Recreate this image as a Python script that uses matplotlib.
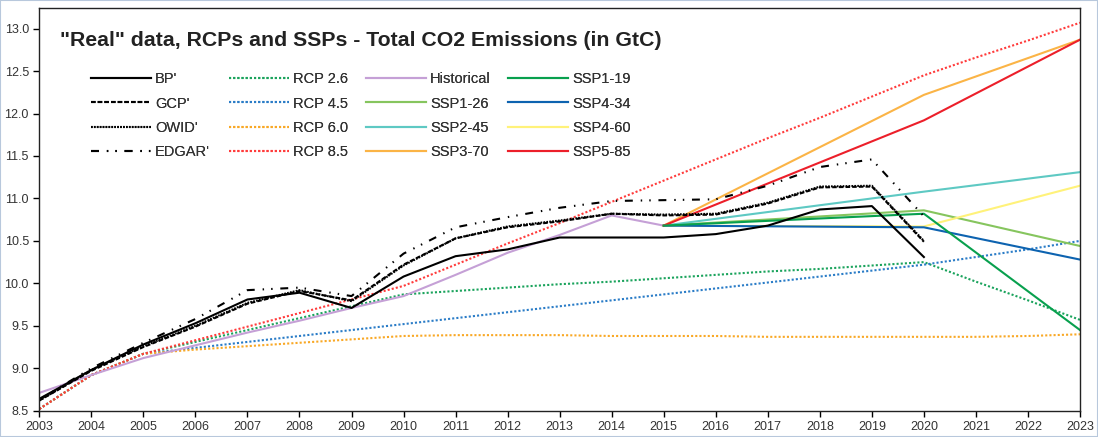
import matplotlib
matplotlib.use('Agg')
import matplotlib.pyplot as plt
from matplotlib.patches import Rectangle

plt.rcParams['font.family'] = ['Liberation Sans', 'DejaVu Sans']

# years
years_obs = list(range(2003, 2021))
years_hist = list(range(2003, 2016))
years_rcp = list(range(2003, 2024))
years_ssp = [2015, 2020, 2023]

# "real" data (GtC)
bp = [8.64, 8.98, 9.28, 9.53, 9.81, 9.89, 9.71, 10.08, 10.32, 10.40, 10.54, 10.54, 10.54, 10.58, 10.68, 10.87, 10.91, 10.31]
gcp = [8.62, 8.97, 9.25, 9.49, 9.76, 9.91, 9.80, 10.22, 10.53, 10.66, 10.73, 10.82, 10.80, 10.81, 10.94, 11.13, 11.14, 10.49]
owid = [8.62, 8.98, 9.26, 9.50, 9.77, 9.92, 9.79, 10.21, 10.53, 10.67, 10.74, 10.82, 10.81, 10.82, 10.95, 11.14, 11.15, 10.50]
edgar = [8.63, 9.00, 9.30, 9.58, 9.92, 9.95, 9.85, 10.35, 10.66, 10.78, 10.89, 10.97, 10.98, 10.99, 11.15, 11.37, 11.46, 10.79]

# RCPs
rcp26 = [8.52, 8.92, 9.17, 9.31, 9.45, 9.59, 9.73, 9.87, 9.91, 9.95, 9.99, 10.02, 10.06, 10.10, 10.14, 10.17, 10.21, 10.25, 10.02, 9.80, 9.57]
rcp45 = [8.52, 8.92, 9.17, 9.24, 9.31, 9.38, 9.45, 9.52, 9.59, 9.66, 9.73, 9.80, 9.87, 9.94, 10.01, 10.08, 10.15, 10.22, 10.31, 10.40, 10.50]
rcp60 = [8.52, 8.92, 9.17, 9.22, 9.26, 9.30, 9.34, 9.38, 9.39, 9.39, 9.39, 9.38, 9.38, 9.38, 9.37, 9.37, 9.37, 9.37, 9.37, 9.38, 9.40]
rcp85 = [8.52, 8.92, 9.17, 9.33, 9.49, 9.65, 9.81, 9.97, 10.22, 10.47, 10.71, 10.96, 11.21, 11.46, 11.71, 11.95, 12.20, 12.45, 12.66, 12.86, 13.07]

# historical + SSPs
historical = [8.71, 8.92, 9.12, 9.27, 9.42, 9.56, 9.71, 9.85, 10.10, 10.36, 10.57, 10.80, 10.68]
ssp119 = [10.68, 10.82, 9.45]
ssp126 = [10.68, 10.86, 10.44]
ssp245 = [10.68, 11.08, 11.31]
ssp370 = [10.68, 12.22, 12.87]
ssp434 = [10.68, 10.66, 10.28]
ssp460 = [10.68, 10.67, 11.15]
ssp585 = [10.68, 11.92, 12.87]

W, H = 1098, 437
fig = plt.figure(figsize=(W / 100, H / 100), dpi=100)
ax = fig.add_axes([39.3 / W, 1 - 410.7 / H, (1080 - 39.3) / W, (410.7 - 8.3) / H])

lw = 1.5
dot = (0, (1, 1))

# RCP dotted lines
h_rcp26, = ax.plot(years_rcp, rcp26, color='#1aa35c', lw=lw, ls=dot, label='RCP 2.6')
h_rcp45, = ax.plot(years_rcp, rcp45, color='#2a7cc7', lw=lw, ls=dot, label='RCP 4.5')
h_rcp60, = ax.plot(years_rcp, rcp60, color='#f9a825', lw=lw, ls=dot, label='RCP 6.0')
h_rcp85, = ax.plot(years_rcp, rcp85, color='#ff3b3b', lw=lw, ls=dot, label='RCP 8.5')

# historical and SSP solid lines
h_hist, = ax.plot(years_hist, historical, color='#c5a0d6', lw=lw, label='Historical')
h_126, = ax.plot(years_ssp, ssp126, color='#86c55e', lw=lw, label='SSP1-26')
h_245, = ax.plot(years_ssp, ssp245, color='#5ec9c3', lw=lw, label='SSP2-45')
h_370, = ax.plot(years_ssp, ssp370, color='#fbb446', lw=lw, label='SSP3-70')
h_460, = ax.plot(years_ssp, ssp460, color='#fff27a', lw=lw, label='SSP4-60')
h_434, = ax.plot(years_ssp, ssp434, color='#0d63b0', lw=lw, label='SSP4-34')
h_585, = ax.plot(years_ssp, ssp585, color='#ec1f2a', lw=lw, label='SSP5-85')
h_119, = ax.plot(years_ssp, ssp119, color='#08a04e', lw=lw, label='SSP1-19')

# observed data in black
h_owid, = ax.plot(years_obs, owid, color='black', lw=lw, ls=(0, (0.8, 0.6)), label="OWID'")
h_gcp, = ax.plot(years_obs, gcp, color='black', lw=lw, ls=(0, (2.2, 1.0)), label="GCP'")
h_edgar, = ax.plot(years_obs, edgar, color='black', lw=lw, ls=(0, (3.8, 3.8, 0.7, 3.4, 0.7, 3.7)), label="EDGAR'")
h_bp, = ax.plot(years_obs, bp, color='black', lw=lw, label="BP'")

ax.set_xlim(2003, 2023)
ax.set_ylim(8.5, 8.5 + (410.7 - 8.3) / 84.9)
ax.set_xticks(years_rcp)
ax.set_yticks([8.5 + 0.5 * i for i in range(10)])
ax.set_yticklabels(['%.1f' % (8.5 + 0.5 * i) for i in range(10)])
ax.tick_params(labelsize=9, colors='#333333', length=4, width=1)
ax.tick_params(axis='both', color='black')
for s in ax.spines.values():
    s.set_color('#222222')
    s.set_linewidth(1)

fig.text(60 / W, 1 - 40 / H, '"Real" data, RCPs and SSPs - Total CO2 Emissions (in GtC)',
         fontsize=15.3, fontweight='bold', color='#222222', va='center', ha='left')

# legend: four columns drawn as separate legends
columns = [
    ([h_bp, h_gcp, h_owid, h_edgar], 91),
    ([h_rcp26, h_rcp45, h_rcp60, h_rcp85], 229),
    ([h_hist, h_126, h_245, h_370], 366),
    ([h_119, h_434, h_460, h_585], 508),
]
for handles, x0 in columns:
    leg = fig.legend(handles=handles, loc='upper left', bbox_to_anchor=(x0 / W, 1 - 72 / H),
                     frameon=False, fontsize=10.5, handlelength=4.1, handletextpad=0.28,
                     labelspacing=0.72, borderpad=0, borderaxespad=0)
    for t in leg.get_texts():
        t.set_color('#333333')
    fig.add_artist(leg)

# thin frame around the picture
fig.add_artist(Rectangle((0, 0), 1, 1, transform=fig.transFigure, fill=False,
                         edgecolor='#b8c8dc', lw=1.5))

fig.savefig('out.png', dpi=100)
